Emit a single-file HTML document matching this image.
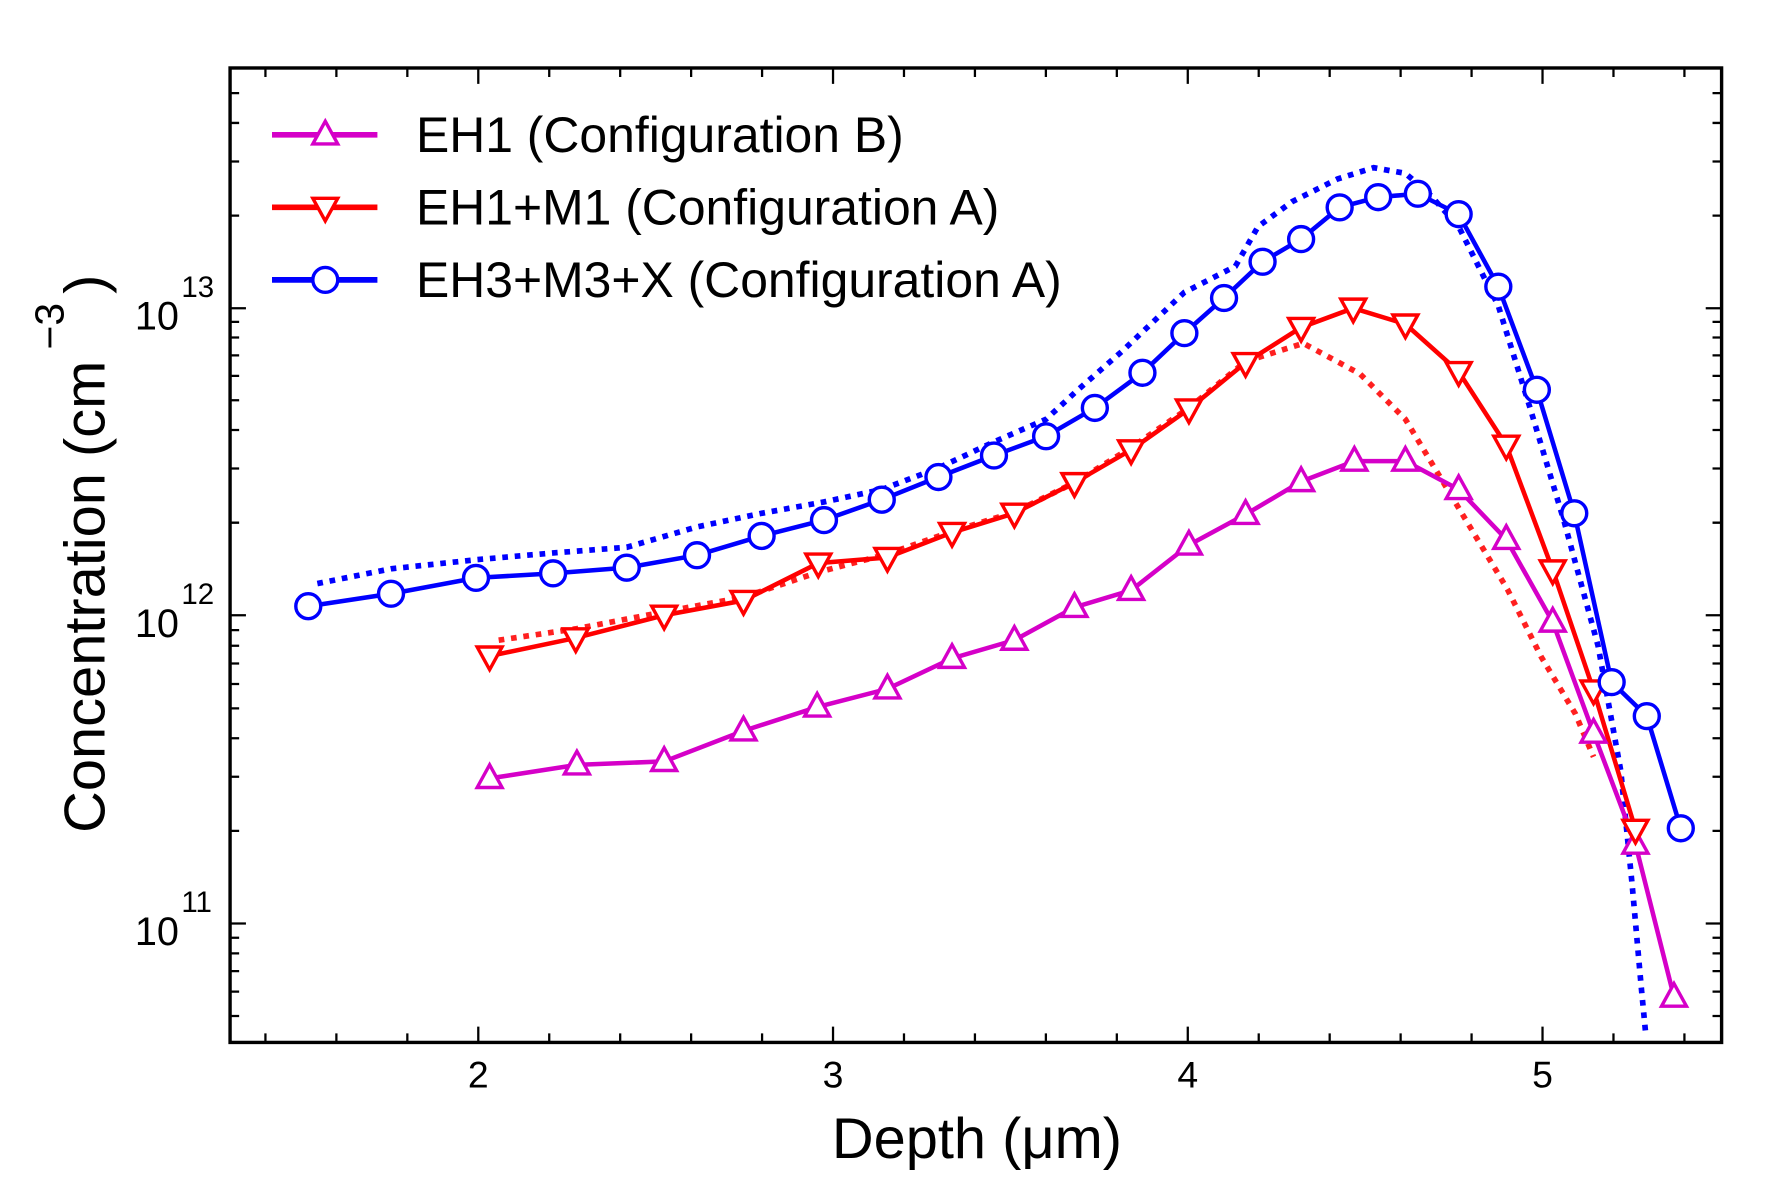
<!DOCTYPE html>
<html><head><meta charset="utf-8"><style>
html,body{margin:0;padding:0;background:#fff}
svg{display:block}
text{font-family:"Liberation Sans",Arial,sans-serif;fill:#000}
</style></head><body>
<svg width="1776" height="1192" viewBox="0 0 1567 1052" preserveAspectRatio="none" xmlns="http://www.w3.org/2000/svg">
<defs>
<path id="tu" d="M0,-12 L11,8 L-11,8 Z" fill="#fff" stroke="#d500c8" stroke-width="3"/>
<path id="td" d="M0,12 L11,-8 L-11,-8 Z" fill="#fff" stroke="#ff0000" stroke-width="3"/>
<circle id="ci" r="11" fill="#fff" stroke="#0000ff" stroke-width="3"/>
</defs>
<path stroke="#000" stroke-width="2" fill="none" d="
M234.2,920v-8M296.8,920v-8M359.4,920v-8M422,920v-14M484.6,920v-8M547.2,920v-8M609.8,920v-8M672.4,920v-8M735,920v-14M797.6,920v-8M860.2,920v-8M922.8,920v-8M985.4,920v-8M1048,920v-14M1110.6,920v-8M1173.2,920v-8M1235.8,920v-8M1298.4,920v-8M1361,920v-14M1423.6,920v-8M1486.2,920v-8
M234.2,60v8M296.8,60v8M359.4,60v8M422,60v14M484.6,60v8M547.2,60v8M609.8,60v8M672.4,60v8M735,60v14M797.6,60v8M860.2,60v8M922.8,60v8M985.4,60v8M1048,60v14M1110.6,60v8M1173.2,60v8M1235.8,60v8M1298.4,60v8M1361,60v14M1423.6,60v8M1486.2,60v8
M203,272h14M203,190.3h8M203,142.5h8M203,108.5h8M203,82.2h8
M203,543h14M203,461.3h8M203,413.5h8M203,379.5h8M203,353.2h8M203,331.7h8M203,313.6h8M203,297.9h8M203,284.1h8
M203,815h14M203,733.3h8M203,685.5h8M203,651.5h8M203,625.2h8M203,603.7h8M203,585.6h8M203,569.9h8M203,556.1h8
M203,896.7h8M203,875.2h8M203,857.1h8M203,841.4h8M203,827.6h8
M1519,272h-14M1519,190.3h-8M1519,142.5h-8M1519,108.5h-8M1519,82.2h-8
M1519,543h-14M1519,461.3h-8M1519,413.5h-8M1519,379.5h-8M1519,353.2h-8M1519,331.7h-8M1519,313.6h-8M1519,297.9h-8M1519,284.1h-8
M1519,815h-14M1519,733.3h-8M1519,685.5h-8M1519,651.5h-8M1519,625.2h-8M1519,603.7h-8M1519,585.6h-8M1519,569.9h-8M1519,556.1h-8
M1519,896.7h-8M1519,875.2h-8M1519,857.1h-8M1519,841.4h-8M1519,827.6h-8"/>
<rect x="203" y="60" width="1316" height="860" fill="none" stroke="#000" stroke-width="3"/>
<g font-size="33" text-anchor="middle">
<text x="422" y="960">2</text><text x="735" y="960">3</text><text x="1048" y="960">4</text><text x="1361" y="960">5</text>
</g>
<g font-size="35">
<text x="119" y="291">10</text><text x="160" y="262" font-size="26">13</text>
<text x="119" y="562">10</text><text x="160" y="533" font-size="26">12</text>
<text x="119" y="834">10</text><text x="160" y="805" font-size="26">11</text>
</g>
<text x="862" y="1022" font-size="51" text-anchor="middle">Depth (μm)</text>
<text transform="translate(92,735) rotate(-90)" font-size="51">Concentration (cm<tspan dx="10" dy="-36" font-size="36">−3</tspan><tspan dx="8" dy="36">)</tspan></text>

<polyline fill="none" stroke="#0000ff" stroke-width="5" stroke-dasharray="5,6" points="280,515 345,502 420,494 488,488 553,483 615,465 672,453 727,443 778,432 828,413 877,390 923,370 950,345 990,310 1045,258 1090,235 1110,200 1140,178 1180,158 1212,148 1240,153 1260,170 1287,200 1322,270 1350,360 1380,460 1410,570 1430,680 1440,780 1448,870 1452,912"/>
<polyline fill="none" stroke="#ff2020" stroke-width="5" stroke-dasharray="5,6" points="440,565 508,555 586,540 656,527 722,505 783,489 840,469 895,452 948,426 998,395 1049,360 1099,319 1150,303 1200,330 1240,370 1270,420 1300,470 1330,520 1360,580 1390,630 1406,668"/>

<polyline fill="none" stroke="#d500c8" stroke-width="4" points="432,687 509,675 586,672 656,645 721,624 783,608 840,581 895,565 948,536 998,521 1049,481 1099,454 1148,425 1195,407 1240,407 1287,432 1329,476 1370,549 1406,647 1443,745 1477,880"/>
<polyline fill="none" stroke="#ff0000" stroke-width="4" points="432,579 508,563 586,543 656,530 722,497 783,492 840,470 895,453 948,426 998,397 1049,361 1099,320 1148,289 1194,272 1240,286 1287,328 1329,393 1370,503 1406,609 1443,732"/>
<polyline fill="none" stroke="#0000ff" stroke-width="4" points="272,535 345,524 420,510 488,506 553,501 615,490 672,473 727,459 778,441 828,421 877,402 923,385 966,360 1008,329 1045,294 1080,263 1114,231 1148,211 1182,183 1216,174 1251,171 1287,189 1322,253 1356,344 1389,453 1422,602 1453,632 1483,731"/>

<use href="#tu" x="432" y="687"/><use href="#tu" x="509" y="675"/><use href="#tu" x="586" y="672"/><use href="#tu" x="656" y="645"/><use href="#tu" x="721" y="624"/><use href="#tu" x="783" y="608"/><use href="#tu" x="840" y="581"/><use href="#tu" x="895" y="565"/><use href="#tu" x="948" y="536"/><use href="#tu" x="998" y="521"/><use href="#tu" x="1049" y="481"/><use href="#tu" x="1099" y="454"/><use href="#tu" x="1148" y="425"/><use href="#tu" x="1195" y="407"/><use href="#tu" x="1240" y="407"/><use href="#tu" x="1287" y="432"/><use href="#tu" x="1329" y="476"/><use href="#tu" x="1370" y="549"/><use href="#tu" x="1406" y="647"/><use href="#tu" x="1443" y="745"/><use href="#tu" x="1477" y="880"/>

<use href="#td" x="432" y="579"/><use href="#td" x="508" y="563"/><use href="#td" x="586" y="543"/><use href="#td" x="656" y="530"/><use href="#td" x="722" y="497"/><use href="#td" x="783" y="492"/><use href="#td" x="840" y="470"/><use href="#td" x="895" y="453"/><use href="#td" x="948" y="426"/><use href="#td" x="998" y="397"/><use href="#td" x="1049" y="361"/><use href="#td" x="1099" y="320"/><use href="#td" x="1148" y="289"/><use href="#td" x="1194" y="272"/><use href="#td" x="1240" y="286"/><use href="#td" x="1287" y="328"/><use href="#td" x="1329" y="393"/><use href="#td" x="1370" y="503"/><use href="#td" x="1406" y="609"/><use href="#td" x="1443" y="732"/>

<use href="#ci" x="272" y="535"/><use href="#ci" x="345" y="524"/><use href="#ci" x="420" y="510"/><use href="#ci" x="488" y="506"/><use href="#ci" x="553" y="501"/><use href="#ci" x="615" y="490"/><use href="#ci" x="672" y="473"/><use href="#ci" x="727" y="459"/><use href="#ci" x="778" y="441"/><use href="#ci" x="828" y="421"/><use href="#ci" x="877" y="402"/><use href="#ci" x="923" y="385"/><use href="#ci" x="966" y="360"/><use href="#ci" x="1008" y="329"/><use href="#ci" x="1045" y="294"/><use href="#ci" x="1080" y="263"/><use href="#ci" x="1114" y="231"/><use href="#ci" x="1148" y="211"/><use href="#ci" x="1182" y="183"/><use href="#ci" x="1216" y="174"/><use href="#ci" x="1251" y="171"/><use href="#ci" x="1287" y="189"/><use href="#ci" x="1322" y="253"/><use href="#ci" x="1356" y="344"/><use href="#ci" x="1389" y="453"/><use href="#ci" x="1422" y="602"/><use href="#ci" x="1453" y="632"/><use href="#ci" x="1483" y="731"/>

<line x1="240" y1="119" x2="333" y2="119" stroke="#d500c8" stroke-width="5"/><use href="#tu" x="287" y="119"/>
<line x1="240" y1="183" x2="333" y2="183" stroke="#ff0000" stroke-width="5"/><use href="#td" x="287" y="183"/>
<line x1="240" y1="247" x2="333" y2="247" stroke="#0000ff" stroke-width="5"/><use href="#ci" x="287" y="247"/>
<g font-size="44">
<text x="367" y="134">EH1 (Configuration B)</text>
<text x="367" y="198">EH1+M1 (Configuration A)</text>
<text x="367" y="262">EH3+M3+X (Configuration A)</text>
</g>
</svg>
</body></html>
